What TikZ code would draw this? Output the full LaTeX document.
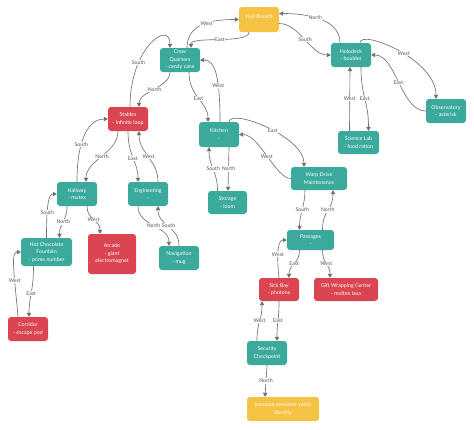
\documentclass[tikz,border=0pt]{standalone}
\usepackage{fontspec}
\setmainfont{Lato}
\usetikzlibrary{arrows.meta}
\definecolor{tealc}{HTML}{3BAA9D}
\definecolor{redc}{HTML}{DB4551}
\definecolor{yelc}{HTML}{F6C244}
\definecolor{linec}{HTML}{727272}
\definecolor{lblc}{HTML}{555555}
\tikzset{
  box/.style={rounded corners=3pt, text=white, align=center, font=\fontsize{5.3}{7.5}\selectfont, inner sep=0pt, draw=none},
  tealbox/.style={box, fill=tealc},
  redbox/.style={box, fill=redc},
  yelbox/.style={box, fill=yelc},
  sz/.style 2 args={minimum width=#1pt, minimum height=#2pt},
  conn/.style={draw=linec, line width=0.65pt, -{Triangle[width=4.5pt,length=4pt]}},
  lbl/.style={fill=white, text=lblc, font=\fontsize{5.2}{6}\selectfont, inner sep=0.6pt},
}
\begin{document}
\begin{tikzpicture}[x=1pt,y=-1pt]
\useasboundingbox[fill=white] (0,0) rectangle (474,429);
% nodes
\node[yelbox, sz={40}{25}] (hb) at (259,19.5) {Hull Breach\\[-1pt]\mbox{}};
\node[tealbox, sz={40}{24}] (cq) at (180,60) {Crew\\Quarters\\- candy cane};
\node[tealbox, sz={40}{24}] (holo) at (351,55) {Holodeck\\- boulder};
\node[tealbox, sz={40}{24}] (obs) at (446,111) {Observatory\\- asterisk};
\node[tealbox, sz={41}{23}] (sci) at (358.5,142.5) {Science Lab\\- food ration};
\node[redbox, sz={40}{24}] (stab) at (128,119) {Stables\\- infinite loop};
\node[tealbox, sz={40}{25}] (kit) at (219,134.5) {Kitchen\\-};
\node[tealbox, sz={39}{23}] (stor) at (227.5,202.5) {Storage\\- loom};
\node[tealbox, sz={56}{23}] (warp) at (319,178.5) {Warp Drive\\Maintenance};
\node[tealbox, sz={40}{24}] (hall) at (77,194) {Hallway\\- mutex};
\node[tealbox, sz={40}{24}] (eng) at (148,194) {Engineering\\-};
\node[tealbox, sz={51}{28}] (hcf) at (46.5,252) {Hot Chocolate\\Fountain\\- prime number};
\node[redbox, sz={48}{40}] (arc) at (112,254) {Arcade\\- giant\\electromagnet};
\node[tealbox, sz={40}{24}] (nav) at (179,258) {Navigation\\- mug};
\node[tealbox, sz={47}{20}] (pass) at (310.5,240) {Passages\\-};
\node[redbox, sz={40}{23}] (sick) at (279,289.5) {Sick Bay\\- photons};
\node[redbox, sz={64}{23}] (gift) at (346,289.5) {Gift Wrapping Center\\- molten lava};
\node[redbox, sz={40}{24}] (corr) at (28,329) {Corridor\\- escape pod};
\node[tealbox, sz={40}{24}] (sec) at (267,353) {Security\\Checkpoint};
\node[yelbox, sz={72}{24}] (pres) at (283,409) {pressure-sensitive verify\\identity};
% connectors
\draw[conn] ([xshift=-10pt]hb.south) .. controls +(0,12) and +(0,-12) .. node[lbl,pos=0.5]{East} ([xshift=11pt]cq.north);
\draw[conn] ([xshift=7pt]cq.north) .. controls +(0,-25) and +(-25,0) .. node[lbl,pos=0.55]{West} (hb.west);
\draw[conn] ([xshift=-11pt]holo.north) .. controls +(0,-25) and +(25,0) .. node[lbl,pos=0.55]{North} ([yshift=6pt]hb.east);
\draw[conn] ([yshift=-4pt]hb.east) .. controls +(20,0) and +(-20,0) .. node[lbl,pos=0.5]{South} (holo.west);
\draw[conn] ([xshift=9pt]holo.north) .. controls +(0,-14) and +(0,-40) .. node[lbl,pos=0.55]{West} ([xshift=-10pt]obs.north);
\draw[conn] (obs.west) .. controls +(-25,0) and +(25,0) .. node[lbl,pos=0.5]{East} (holo.east);
\draw[conn] ([xshift=-9pt]sci.north) -- node[lbl,pos=0.5]{West} ([xshift=-1pt]holo.south);
\draw[conn] ([xshift=10pt]holo.south) .. controls +(0,30) and +(0,-30) .. node[lbl,pos=0.5]{East} ([xshift=10pt]sci.north);
\draw[conn] ([xshift=2pt]stab.north) .. controls +(0,-60) and +(0,-28) .. node[lbl,pos=0.3]{South} ([xshift=-10pt]cq.north);
\draw[conn] ([xshift=-10pt]cq.south) .. controls +(0,15) and +(0,-15) .. node[lbl,pos=0.5]{North} ([xshift=11pt]stab.north);
\draw[conn] (stab.south) .. controls +(0,25) and +(0,-20) .. node[lbl,pos=0.5]{East} ([xshift=-10pt]eng.north);
\draw[conn] ([xshift=10pt]eng.north) .. controls +(0,-22) and +(0,22) .. node[lbl,pos=0.5]{West} ([xshift=11pt]stab.south);
\draw[conn] (hall.north) .. controls +(0,-45) and +(-18,0) .. node[lbl,pos=0.35]{South} (stab.west);
\draw[conn] ([xshift=-10pt]stab.south) .. controls +(0,22) and +(0,-22) .. node[lbl,pos=0.5]{North} ([xshift=9pt]hall.north);
\draw[conn] ([xshift=9pt]cq.south) .. controls +(0,25) and +(0,-20) .. node[lbl,pos=0.5]{East} ([xshift=-11pt]kit.north);
\draw[conn] ([xshift=1pt]kit.north) .. controls +(0,-45) and +(15,0) .. node[lbl,pos=0.33]{West} (cq.east);
\draw[conn] ([xshift=10pt]kit.north) .. controls +(2,-14) and +(0,-30) .. node[lbl,pos=0.55]{East} ([xshift=-15pt]warp.north);
\draw[conn] (warp.west) .. controls +(-15,0) and +(20,0) .. node[lbl,pos=0.5]{West} (kit.east);
\draw[conn] ([xshift=-10pt]stor.north) .. controls +(0,-20) and +(0,20) .. node[lbl,pos=0.5]{South} ([xshift=-10pt]kit.south);
\draw[conn] ([xshift=10pt]kit.south) -- node[lbl,pos=0.5]{North} ([xshift=0.5pt]stor.north);
\draw[conn] ([xshift=-14pt]warp.south) .. controls +(0,15) and +(0,-15) .. node[lbl,pos=0.5]{South} ([xshift=-11pt]pass.north);
\draw[conn] ([xshift=12pt]pass.north) .. controls +(0,-20) and +(0,20) .. node[lbl,pos=0.5]{North} ([xshift=14pt]warp.south);
\draw[conn] (hcf.north) .. controls +(0,-35) and +(-8,0) .. node[lbl,pos=0.3]{South} (hall.west);
\draw[conn] ([xshift=-10pt]hall.south) .. controls +(0,15) and +(0,-15) .. node[lbl,pos=0.5]{North} ([xshift=13pt]hcf.north);
\draw[conn] ([xshift=10pt]hall.south) .. controls +(0,14) and +(0,-14) .. node[lbl,pos=0.5]{West} ([xshift=-12pt]arc.north);
\draw[conn] ([xshift=-10pt]eng.south) .. controls +(0,20) and +(0,-20) .. node[lbl,pos=0.5]{North} ([xshift=-10pt]nav.north);
\draw[conn] (nav.north) .. controls +(0,-20) and +(0,20) .. node[lbl,pos=0.5]{South} ([xshift=10pt]eng.south);
\draw[conn] ([xshift=-10pt]corr.north) .. controls +(-4,-45) and +(-10,0) .. node[lbl,pos=0.33]{West} (hcf.west);
\draw[conn] ([xshift=-13pt]hcf.south) .. controls +(0,25) and +(0,-20) .. node[lbl,pos=0.5]{East} ([xshift=1pt]corr.north);
\draw[conn] (sick.north) .. controls +(-3,-28) and +(-8,0) .. node[lbl,pos=0.35]{West} (pass.west);
\draw[conn] ([xshift=-11pt]pass.south) .. controls +(0,14) and +(0,-14) .. node[lbl,pos=0.5]{East} ([xshift=10pt]sick.north);
\draw[conn] ([xshift=12pt]pass.south) .. controls +(0,14) and +(0,-14) .. node[lbl,pos=0.5]{West} ([xshift=-16pt]gift.north);
\draw[conn] ([xshift=-10pt]sec.north) .. controls +(0,-20) and +(0,20) .. node[lbl,pos=0.5]{West} ([xshift=-17pt]sick.south);
\draw[conn] (sick.south) .. controls +(0,20) and +(0,-20) .. node[lbl,pos=0.5]{East} ([xshift=10pt]sec.north);
\draw[conn] (sec.south) -- node[lbl,pos=0.5]{North} ([xshift=-18pt]pres.north);
\end{tikzpicture}
\end{document}
